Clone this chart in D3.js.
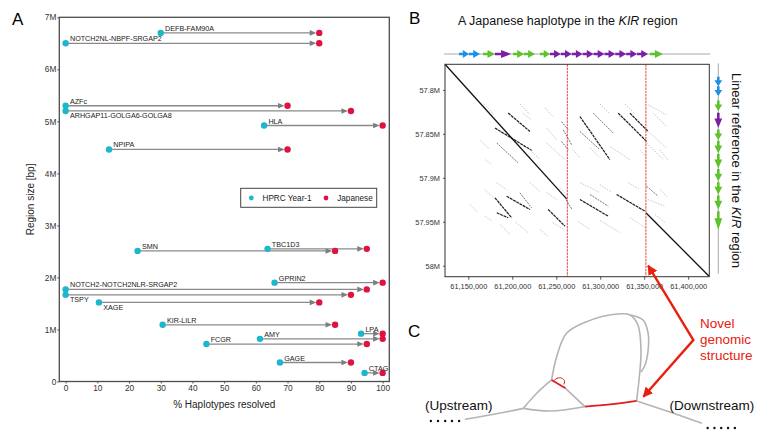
<!DOCTYPE html>
<html>
<head>
<meta charset="utf-8">
<script src="https://cdn.jsdelivr.net/npm/d3@7"></script>
<style>
  body { margin: 0; background: #fff; }
  svg { font-family: "Liberation Sans", Arial, sans-serif; }
</style>
</head>
<body>
<svg id="fig" width="768" height="442"></svg>
<script>
// ---------- Panel A: regions resolved ----------
const regionNames = ["DEFB-FAM90A", "NOTCH2NL-NBPF-SRGAP2", "AZFc", "ARHGAP11-GOLGA6-GOLGA8",
  "HLA", "NPIPA", "SMN", "TBC1D3", "GPRIN2", "NOTCH2-NOTCH2NLR-SRGAP2", "TSPY", "XAGE",
  "KIR-LILR", "LPA", "AMY", "FCGR", "GAGE", "CTAG"];
const regionSize = [6.70e6, 6.50e6, 5.30e6, 5.20e6, 4.92e6, 4.46e6, 2.51e6, 2.55e6, 1.90e6,
  1.77e6, 1.665e6, 1.52e6, 1.09e6, 0.92e6, 0.82e6, 0.72e6, 0.365e6, 0.165e6];
const hprcResolved = [30, 0, 0, 0, 62.6, 13.7, 22.7, 63.7, 65.9, 0, 0, 10.5, 30.6, 93.2, 61.3, 44.4, 67.6, 94.3];
const japaneseResolved = [80, 80, 70, 90, 100, 70, 85, 95, 100, 95, 90, 80, 85, 100, 100, 95, 90, 100];
const labelsBelow = ["ARHGAP11-GOLGA6-GOLGA8", "TSPY", "XAGE"];
const sizeTicks = [0, 1e6, 2e6, 3e6, 4e6, 5e6, 6e6, 7e6];
const pctTicks = [0, 10, 20, 30, 40, 50, 60, 70, 80, 90, 100];
const seriesNames = ["HPRC Year-1", "Japanese"];

// ---------- Panel B: dot plot of the KIR region ----------
const dotXTicks = [61150, 61200, 61250, 61300, 61350, 61400];   // kb
const dotYTicks = [57.8, 57.85, 57.9, 57.95, 58];                 // Mb
const novelBounds = [61262.6, 61351.9];                            // kb
// [x1 kb, y1 Mb, x2 kb, y2 Mb]
const selfDiagonal = [
  [61123.5, 57.7709, 61261.8, 57.9240],
  [61351.9, 57.9398, 61423.5, 58.0117]
];
// [x1 kb, y1 Mb, x2 kb, y2 Mb, strength]
const dotSegments = [
  [61195.4, 57.8264, 61220.1, 57.8473, 3],
  [61180.3, 57.8434, 61222.0, 57.8688, 3],
  [61182.3, 57.8604, 61206.8, 57.8831, 2],
  [61276.9, 57.8303, 61311.0, 57.8794, 3],
  [61292.0, 57.8264, 61314.8, 57.8491, 2],
  [61320.4, 57.8264, 61352.7, 57.8586, 3],
  [61333.7, 57.8264, 61354.5, 57.8473, 3],
  [61276.9, 57.8473, 61299.6, 57.8680, 2],
  [61311.0, 57.8643, 61333.7, 57.8794, 1],
  [61257.9, 57.8454, 61267.5, 57.8624, 2],
  [61255.9, 57.8360, 61263.6, 57.8454, 2],
  [61255.9, 57.8586, 61263.6, 57.8680, 2],
  [61239.1, 57.8434, 61250.4, 57.8567, 1],
  [61239.1, 57.8604, 61259.9, 57.8794, 1],
  [61352.7, 57.8604, 61371.6, 57.8794, 1],
  [61360.2, 57.8264, 61375.4, 57.8416, 1],
  [61354.5, 57.8170, 61375.4, 57.8284, 1],
  [61354.5, 57.8473, 61375.4, 57.8662, 1],
  [61212.0, 57.8264, 61222.0, 57.8340, 1],
  [61169.0, 57.8794, 61177.0, 57.8850, 1],
  [61167.8, 57.8159, 61179.2, 57.8283, 1],
  [61208.7, 57.8159, 61220.1, 57.8283, 1],
  [61237.1, 57.8204, 61246.2, 57.8306, 1],
  [61299.6, 57.8159, 61311.0, 57.8272, 1],
  [61328.0, 57.8159, 61339.4, 57.8272, 1],
  [61163.3, 57.8567, 61174.6, 57.8680, 1],
  [61220.1, 57.8680, 61231.5, 57.8794, 1],
  [61288.3, 57.8658, 61299.6, 57.8771, 1],
  [61345.1, 57.8680, 61351.9, 57.8760, 1],
  [61269.0, 57.8680, 61276.9, 57.8771, 1],
  [61367.8, 57.8680, 61376.9, 57.8794, 1],
  [61193.6, 57.9210, 61220.1, 57.9361, 3],
  [61180.3, 57.9228, 61199.3, 57.9455, 3],
  [61182.3, 57.9398, 61195.4, 57.9455, 3],
  [61208.7, 57.9171, 61222.0, 57.9341, 2],
  [61240.9, 57.9361, 61259.9, 57.9550, 3],
  [61276.9, 57.9247, 61309.1, 57.9437, 3],
  [61288.3, 57.9190, 61309.1, 57.9323, 2],
  [61318.6, 57.9190, 61350.8, 57.9380, 3],
  [61352.7, 57.9096, 61365.9, 57.9210, 2],
  [61354.0, 57.9247, 61373.0, 57.9323, 1],
  [61276.9, 57.9054, 61299.6, 57.9168, 1],
  [61169.0, 57.9437, 61177.0, 57.9493, 1],
  [61204.0, 57.9508, 61217.6, 57.9621, 1],
  [61246.0, 57.9508, 61259.9, 57.9599, 1],
  [61239.0, 57.9168, 61250.4, 57.9247, 1],
  [61182.3, 57.9058, 61193.6, 57.9134, 1],
  [61261.0, 57.9247, 61268.0, 57.9361, 2],
  [61299.6, 57.9485, 61322.3, 57.9621, 1],
  [61333.7, 57.9451, 61350.8, 57.9565, 1],
  [61169.0, 57.9134, 61180.3, 57.9247, 1],
  [61220.1, 57.9054, 61231.5, 57.9156, 1],
  [61254.2, 57.9111, 61262.2, 57.9202, 1],
  [61299.6, 57.9077, 61313.3, 57.9168, 1],
  [61331.5, 57.9054, 61345.1, 57.9134, 1],
  [61367.8, 57.9134, 61376.9, 57.9224, 1],
  [61186.0, 57.9531, 61197.4, 57.9644, 1],
  [61274.6, 57.9497, 61288.3, 57.9587, 1],
  [61362.1, 57.9417, 61373.5, 57.9508, 1],
  [61151.9, 57.9304, 61161.0, 57.9395, 1],
  [61231.5, 57.9587, 61240.6, 57.9667, 1]
];
// haplotype genes along the top [start kb, end kb, family]
const hapGenes = [
  [61139.4, 61150.8, "blue"], [61150.8, 61163.3, "blue"], [61166.7, 61180.3, "green"],
  [61180.3, 61198.5, "purple"], [61200.8, 61213.3, "green"], [61213.3, 61225.8, "green"],
  [61231.5, 61242.8, "green"], [61242.8, 61255.2, "purple"], [61255.2, 61267.6, "purple"],
  [61267.6, 61280.0, "purple"], [61280.0, 61292.4, "purple"], [61292.4, 61304.8, "purple"],
  [61304.8, 61317.1, "purple"], [61317.1, 61329.5, "purple"], [61329.5, 61341.9, "purple"],
  [61341.9, 61354.3, "purple"], [61356.5, 61371.3, "green"]
];
// reference genes on the right [start Mb, end Mb, family]
const refGenes = [
  [57.785, 57.796, "blue"], [57.796, 57.807, "blue"], [57.812, 57.824, "green"],
  [57.826, 57.843, "purple"], [57.845, 57.857, "green"], [57.858, 57.872, "green"],
  [57.873, 57.889, "green"], [57.890, 57.904, "green"], [57.905, 57.919, "green"],
  [57.920, 57.936, "green"], [57.938, 57.959, "green"]
];

// ---------- Panel C: graph (schematic units 0-100) ----------
const graphEdges = [
  {pts: [[13.2, 85.2], [22.1, 81.4], [30.4, 77.4]], red: false},
  {pts: [[30.4, 77.4], [34.4, 66.4], [38.7, 57.1]], red: false},
  {pts: [[30.4, 77.4], [38.2, 79.3], [48.5, 76.2]], red: false},
  {pts: [[38.7, 57.1], [42.8, 63.1]], red: true},
  {pts: [[42.8, 63.1], [48.5, 76.2]], red: false},
  {pts: [[39.4, 57.6], [40.3, 55.9], [41.7, 55.8], [42.5, 57.8], [42.3, 60.3]], red: true, thin: true},
  {pts: [[48.5, 76.2], [55.9, 74.6], [63.7, 72.1]], red: true},
  {pts: [[63.7, 72.1], [73.5, 80.0], [82.9, 88.1]], red: false},
  {pts: [[38.7, 57.1], [40.2, 40.5], [43.1, 23.8], [49.0, 15.5], [57.9, 10.0], [61.8, 10.7],
         [64.1, 17.9], [65.0, 35.7], [64.7, 50.0], [63.7, 72.1]], red: false},
  {pts: [[61.8, 10.7], [65.6, 14.3], [67.1, 23.8], [67.1, 35.7], [66.2, 46.4], [65.0, 51.4]], red: false}
];
const upstreamDots = [3.2, 5.3, 7.4, 9.4, 11.5];
const downstreamDots = [84.6, 86.6, 88.6, 90.6, 92.6];

const cyan = "#1db6cc", red = "#e0123f", arrowGray = "#8a8a8a";
const geneColor = {blue: "#1e8fe6", green: "#5dc22c", purple: "#7a1fa6"};

const svg = d3.select("#fig");
svg.append("rect").attr("width", 768).attr("height", 442).attr("fill", "#fff");

// ================= Panel A =================
const ax = d3.scaleLinear().domain([-2, 102.1]).range([59.3, 389.3]);
const ay = d3.scaleLinear().domain([0, 7e6]).range([381.5, 17.3]);
const gA = svg.append("g");

gA.append("text").attr("x", 12).attr("y", 25).attr("font-size", 17).text("A");

const yAxisA = gA.append("g")
  .attr("transform", `translate(${ax.range()[0]},0)`)
  .call(d3.axisLeft(ay).tickValues(sizeTicks).tickSize(2).tickPadding(1)
    .tickFormat(d => d === 0 ? "0" : (d / 1e6) + "M"));
const xAxisA = gA.append("g")
  .attr("transform", `translate(0,${ay.range()[0]})`)
  .call(d3.axisBottom(ax).tickValues(pctTicks).tickSize(2).tickPadding(1.8));
[yAxisA, xAxisA].forEach(a => {
  a.select(".domain").remove();
  a.selectAll("text").attr("font-size", 8.3).attr("font-family", null).attr("fill", "#333");
  a.selectAll("line").attr("stroke", "#555");
});

gA.append("rect")
  .attr("x", ax.range()[0]).attr("y", ay.range()[1])
  .attr("width", ax.range()[1] - ax.range()[0])
  .attr("height", ay.range()[0] - ay.range()[1])
  .attr("fill", "none").attr("stroke", "#4d4d4d").attr("stroke-width", 1.3);

gA.append("text")
  .attr("transform", `translate(34,${(ay.range()[0] + ay.range()[1]) / 2}) rotate(-90)`)
  .attr("text-anchor", "middle").attr("font-size", 10).attr("fill", "#222")
  .text("Region size [bp]");
gA.append("text")
  .attr("x", (ax.range()[0] + ax.range()[1]) / 2).attr("y", 408)
  .attr("text-anchor", "middle").attr("font-size", 10).attr("fill", "#222")
  .text("% Haplotypes resolved");

const rows = regionNames.map((name, i) => ({
  name, size: regionSize[i], hprc: hprcResolved[i], jp: japaneseResolved[i]
}));

// arrows
rows.forEach(d => {
  const y = ay(d.size);
  const tip = ax(d.jp) - 3;
  const base = tip - 6.5;
  gA.append("line")
    .attr("x1", ax(d.hprc)).attr("x2", base + 1)
    .attr("y1", y).attr("y2", y)
    .attr("stroke", arrowGray).attr("stroke-width", 1.3);
  gA.append("path")
    .attr("d", `M${base},${y - 2.8}L${tip},${y}L${base},${y + 2.8}Z`)
    .attr("fill", "#7d7d7d");
});

gA.selectAll(".dot-jp").data(rows).enter().append("circle")
  .attr("class", "dot-jp")
  .attr("cx", d => ax(d.jp)).attr("cy", d => ay(d.size))
  .attr("r", 3.2).attr("fill", red);

gA.selectAll(".dot-hprc").data(rows).enter().append("circle")
  .attr("class", "dot-hprc")
  .attr("cx", d => ax(d.hprc)).attr("cy", d => ay(d.size))
  .attr("r", 3.2).attr("fill", cyan);

gA.selectAll(".region-label").data(rows).enter().append("text")
  .attr("class", "region-label")
  .attr("x", d => ax(d.hprc) + 4.3)
  .attr("y", d => ay(d.size) + (labelsBelow.includes(d.name) ? 7.2 : -2))
  .attr("font-size", 7.2).attr("fill", "#222")
  .text(d => d.name);

// legend
const leg = gA.append("g");
leg.append("rect").attr("x", 240.7).attr("y", 188.3).attr("width", 136).attr("height", 19)
  .attr("fill", "#fff").attr("stroke", "#444").attr("stroke-width", 1);
[[251.3, cyan], [326, red]].forEach(([x, c], i) => {
  leg.append("circle").attr("cx", x).attr("cy", 198).attr("r", 2.4).attr("fill", c);
  leg.append("text").attr("x", x + 11.2).attr("y", 201).attr("font-size", 8.2)
    .attr("fill", "#222").text(seriesNames[i]);
});

// ================= Panel B =================
const bx = d3.scaleLinear().domain([61123.5, 61424]).range([445, 709.3]);
const by = d3.scaleLinear().domain([57.7709, 58.0125]).range([64.3, 276.7]);
const gB = svg.append("g");

gB.append("text").attr("x", 409).attr("y", 24).attr("font-size", 17).text("B");
const title = gB.append("text").attr("x", 458).attr("y", 25).attr("font-size", 12.5).attr("fill", "#111")
  .text("A Japanese haplotype in the ");
title.append("tspan").attr("font-style", "italic").text("KIR");
title.append("tspan").text(" region");

const xAxisB = gB.append("g")
  .attr("transform", `translate(0,${by.range()[1]})`)
  .call(d3.axisBottom(bx).tickValues(dotXTicks).tickSize(3).tickPadding(4)
    .tickFormat(v => d3.format(",")(Math.round(v * 1000))));
const yAxisB = gB.append("g")
  .attr("transform", `translate(${bx.range()[0]},0)`)
  .call(d3.axisLeft(by).tickValues(dotYTicks).tickSize(2).tickPadding(3)
    .tickFormat(v => (+v.toFixed(2)) + "M"));
[xAxisB, yAxisB].forEach(a => {
  a.select(".domain").remove();
  a.selectAll("text").attr("font-size", 7.4).attr("font-family", null).attr("fill", "#333");
  a.selectAll("line").attr("stroke", "#555");
});

const segStyle = {
  1: {c: "#c4c4c4", w: 0.9, dash: "1.6,1.2"},
  2: {c: "#777", w: 1.0, dash: "2,1"},
  3: {c: "#222", w: 1.25, dash: "3,0.7"}
};
gB.selectAll(".seg").data(dotSegments).enter().append("line")
  .attr("class", "seg")
  .attr("x1", d => bx(d[0])).attr("y1", d => by(d[1]))
  .attr("x2", d => bx(d[2])).attr("y2", d => by(d[3]))
  .attr("stroke", d => segStyle[d[4]].c)
  .attr("stroke-width", d => segStyle[d[4]].w)
  .attr("stroke-dasharray", d => segStyle[d[4]].dash);

gB.selectAll(".diag").data(selfDiagonal).enter().append("line")
  .attr("class", "diag")
  .attr("x1", d => bx(d[0])).attr("y1", d => by(d[1]))
  .attr("x2", d => bx(d[2])).attr("y2", d => by(d[3]))
  .attr("stroke", "#111").attr("stroke-width", 1.3);

gB.selectAll(".novel").data(novelBounds).enter().append("line")
  .attr("class", "novel")
  .attr("x1", d => bx(d)).attr("x2", d => bx(d))
  .attr("y1", by.range()[0]).attr("y2", by.range()[1])
  .attr("stroke", "#e8453c").attr("stroke-width", 1).attr("stroke-dasharray", "2.5,0.8");

gB.append("rect")
  .attr("x", bx.range()[0]).attr("y", by.range()[0])
  .attr("width", bx.range()[1] - bx.range()[0])
  .attr("height", by.range()[1] - by.range()[0])
  .attr("fill", "none").attr("stroke", "#333").attr("stroke-width", 1);

// gene tracks
const topTrackY = 54;
const sideTrackX = 718.3;
gB.append("line").attr("x1", bx.range()[0] - 1).attr("x2", bx.range()[1] + 1)
  .attr("y1", topTrackY).attr("y2", topTrackY).attr("stroke", "#aaa").attr("stroke-width", 1);
gB.append("line").attr("x1", sideTrackX).attr("x2", sideTrackX)
  .attr("y1", by.range()[0] - 1).attr("y2", by.range()[1] - 3).attr("stroke", "#aaa").attr("stroke-width", 1);

function arrowPoints(a, b, c, horizontal) {
  const s = a + (b - a) * 0.38;
  const pts = [[a, c - 1.3], [s, c - 1.3], [s, c - 3.9], [b, c], [s, c + 3.9], [s, c + 1.3], [a, c + 1.3]];
  return (horizontal ? pts : pts.map(p => [p[1], p[0]])).map(p => p.join(",")).join(" ");
}
gB.selectAll(".hap-gene").data(hapGenes).enter().append("polygon")
  .attr("class", "hap-gene")
  .attr("points", d => arrowPoints(bx(d[0]), bx(d[1]), topTrackY, true))
  .attr("fill", d => geneColor[d[2]]);
gB.selectAll(".ref-gene").data(refGenes).enter().append("polygon")
  .attr("class", "ref-gene")
  .attr("points", d => arrowPoints(by(d[0]), by(d[1]), sideTrackX, false))
  .attr("fill", d => geneColor[d[2]]);

const sideLabel = gB.append("text")
  .attr("transform", `translate(732,${(by.range()[0] + by.range()[1]) / 2}) rotate(90)`)
  .attr("text-anchor", "middle").attr("font-size", 13).attr("fill", "#111")
  .text("Linear reference in the ");
sideLabel.append("tspan").attr("font-style", "italic").text("KIR");
sideLabel.append("tspan").text(" region");

// ================= Panel C =================
const cx = d3.scaleLinear().domain([0, 100]).range([420, 760]);
const cy = d3.scaleLinear().domain([0, 100]).range([300, 440]);
const gC = svg.append("g");

gC.append("text").attr("x", 408).attr("y", 337).attr("font-size", 17).text("C");

const edgeLine = d3.line().x(d => cx(d[0])).y(d => cy(d[1])).curve(d3.curveCatmullRom.alpha(0.5));
gC.selectAll(".edge").data(graphEdges.filter(e => !e.red)).enter().append("path")
  .attr("class", "edge").attr("d", d => edgeLine(d.pts))
  .attr("fill", "none").attr("stroke", "#b4b4b4").attr("stroke-width", 1.6);
gC.selectAll(".edge-red").data(graphEdges.filter(e => e.red)).enter().append("path")
  .attr("class", "edge-red").attr("d", d => edgeLine(d.pts))
  .attr("fill", "none").attr("stroke", "#e01c1c").attr("stroke-width", d => d.thin ? 1 : 1.8);

gC.selectAll(".up-dot").data(upstreamDots).enter().append("circle")
  .attr("cx", d => cx(d)).attr("cy", cy(86.4)).attr("r", 1.2).attr("fill", "#111");
gC.selectAll(".down-dot").data(downstreamDots).enter().append("circle")
  .attr("cx", d => cx(d)).attr("cy", cy(91.4)).attr("r", 1.2).attr("fill", "#111");

gC.append("text").attr("x", 425).attr("y", 409.5).attr("font-size", 13.5).attr("fill", "#111").text("(Upstream)");
gC.append("text").attr("x", 669.5).attr("y", 409.5).attr("font-size", 13.5).attr("fill", "#111").text("(Downstream)");

// annotation arrow linking B and C
const defs = svg.append("defs");
defs.append("marker").attr("id", "redHead")
  .attr("viewBox", "0 0 10 10").attr("refX", 9).attr("refY", 5)
  .attr("markerWidth", 4.2).attr("markerHeight", 4.2).attr("markerUnits", "strokeWidth")
  .attr("orient", "auto-start-reverse")
  .append("path").attr("d", "M0,0L10,5L0,10Z").attr("fill", "#e8200e");

gC.append("path")
  .attr("d", d3.line()([[bx(61354.5), by(57.9998)], [cx(80.4), cy(28.6)], [cx(65.7), cy(69.1)]]))
  .attr("fill", "none").attr("stroke", "#e8200e").attr("stroke-width", 2.4)
  .attr("marker-start", "url(#redHead)").attr("marker-end", "url(#redHead)");

const novelText = ["Novel", "genomic", "structure"];
gC.selectAll(".novel-text").data(novelText).enter().append("text")
  .attr("x", 700).attr("y", (d, i) => 328 + i * 16)
  .attr("font-size", 13.5).attr("fill", "#e8200e").text(d => d);
</script>
</body>
</html>
